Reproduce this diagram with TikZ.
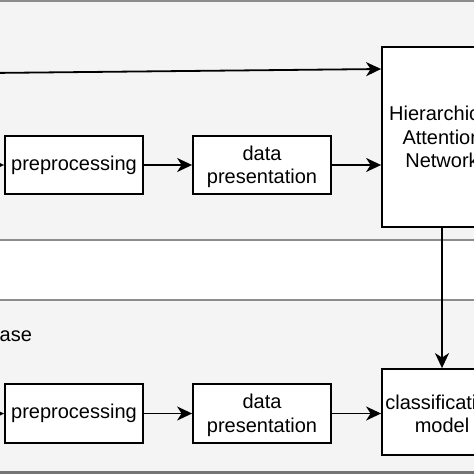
\documentclass[tikz,border=0pt]{standalone}
\usepackage{fontspec}
\setmainfont{Liberation Sans}
\usetikzlibrary{arrows.meta}
\definecolor{panelfill}{HTML}{F4F4F4}
\definecolor{panelline}{HTML}{8C8C8C}
\definecolor{edgeline}{HTML}{747474}
\newcommand{\lowerfirst}{\rule{0pt}{18.5pt}}
\begin{document}
\begin{tikzpicture}[x=1pt,y=-1pt,
  box/.style={draw=black,fill=white,line width=1.8pt,inner sep=0pt,align=center,
    font=\fontsize{20}{23.5}\selectfont},
  conn/.style={line width=1.8pt,-{Stealth[length=15pt,width=14pt,inset=4.5pt]}},
  panel/.style={fill=panelfill,draw=panelline,line width=1.5pt}]
\useasboundingbox (0,0) rectangle (474,474);
% panels
\fill[white] (-5,-5) rectangle (480,480);
\path[panel] (-10,1) rectangle (484,240);
\draw[panelline,line width=2.5pt] (-10,1) -- (484,1);
\path[panel] (-10,300) rectangle (484,472);
\draw[edgeline,line width=3.5pt] (-10,472.5) -- (484,472.5);
% label
\node[anchor=west,inner sep=0pt,font=\fontsize{20}{24}\selectfont] (phase) at (-0.5,336) {ase};
% training row
\node[box,minimum width=138pt,minimum height=58pt] (pre1) at (74,165) {preprocessing};
\node[box,minimum width=138pt,minimum height=58pt] (dp1) at (262,165) {\lowerfirst data\\presentation};
\node[box,minimum width=120pt,minimum height=180pt] (han) at (442,137) {Hierarchical\\Attention\\Network};
% testing row
\node[box,minimum width=138pt,minimum height=59pt] (pre2) at (74,413.5) {preprocessing};
\node[box,minimum width=138pt,minimum height=59pt] (dp2) at (262,413.5) {\lowerfirst data\\presentation};
\node[box,minimum width=120pt,minimum height=86pt] (cls) at (442,412) {\lowerfirst classification\\model};
% free ends
\coordinate (topin) at (-10,73);
\coordinate (in1) at (-16,165);
\coordinate (in2) at (-16,414);
% connectors
\draw[conn] (topin) -- ([yshift=68pt]han.west);
\draw[conn] (in1) -- (pre1.west);
\draw[conn] (pre1.east) -- (dp1.west);
\draw[conn] (dp1.east) -- (han.west |- dp1.east);
\draw[conn] (han.south) -- (cls.north);
\draw[conn] (in2) -- (pre2.west);
\draw[conn] (pre2.east) -- (dp2.west);
\draw[conn] (dp2.east) -- (cls.west |- dp2.east);
\end{tikzpicture}
\end{document}
